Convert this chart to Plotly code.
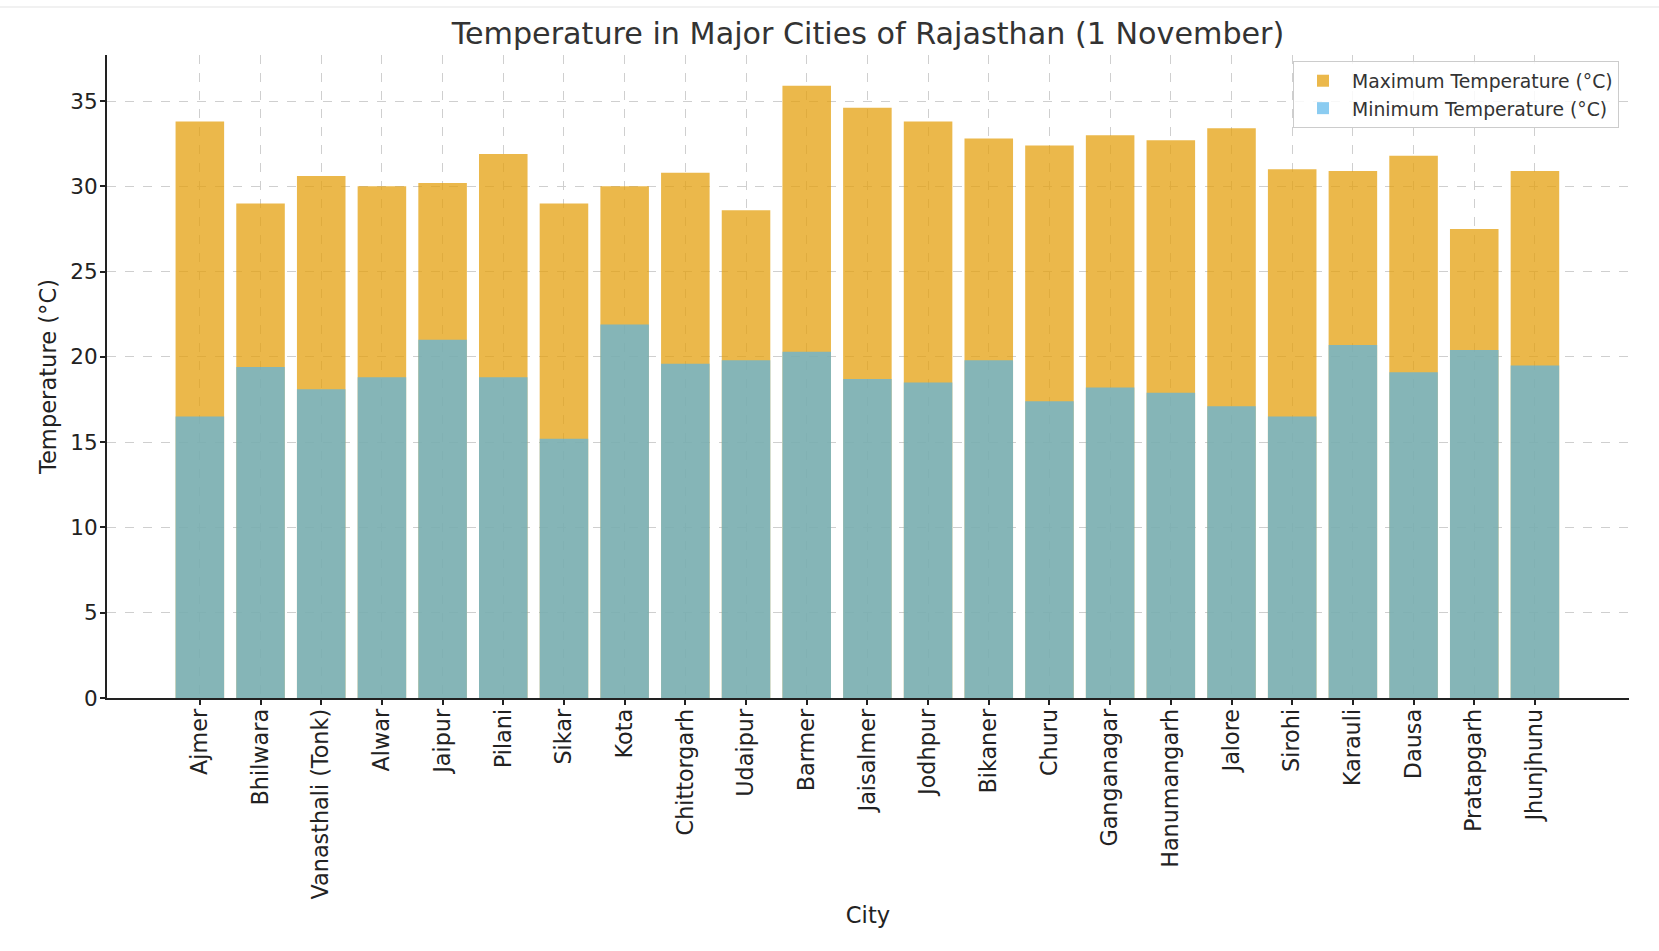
import plotly.graph_objects as go

cities = ["Ajmer", "Bhilwara", "Vanasthali (Tonk)", "Alwar", "Jaipur", "Pilani", "Sikar", "Kota",
          "Chittorgarh", "Udaipur", "Barmer", "Jaisalmer", "Jodhpur", "Bikaner", "Churu",
          "Ganganagar", "Hanumangarh", "Jalore", "Sirohi", "Karauli", "Dausa", "Pratapgarh", "Jhunjhunu"]
max_temp = [33.8, 29.0, 30.6, 30.0, 30.2, 31.9, 29.0, 30.0, 30.8, 28.6, 35.9, 34.6, 33.8,
            32.8, 32.4, 33.0, 32.7, 33.4, 31.0, 30.9, 31.8, 27.5, 30.9]
min_temp = [16.5, 19.4, 18.1, 18.8, 21.0, 18.8, 15.2, 21.9, 19.6, 19.8, 20.3, 18.7, 18.5,
            19.8, 17.4, 18.2, 17.9, 17.1, 16.5, 20.7, 19.1, 20.4, 19.5]
y_ticks = [0, 5, 10, 15, 20, 25, 30, 35]

FONT = "DejaVu Sans"
W, H = 1659, 951
L, R, T, B = 107, 30, 55, 253

fig = go.Figure()
fig.add_trace(go.Bar(
    x=cities, y=max_temp, name="Maximum Temperature (°C)", width=0.8,
    marker=dict(color="rgba(228,160,15,0.75)", line=dict(width=0)),
))
fig.add_trace(go.Bar(
    x=cities, y=min_temp, name="Minimum Temperature (°C)", width=0.8,
    marker=dict(color="rgba(84,180,235,0.68)", line=dict(width=0)),
))

pw = W - L - R
ph = H - T - B
fig.add_shape(type="line", xref="paper", yref="paper",
              x0=-L / pw, x1=(W - L) / pw, y0=1 + (T - 7) / ph, y1=1 + (T - 7) / ph,
              line=dict(color="#e3e3e3", width=1))

fig.update_layout(
    width=W, height=H,
    margin=dict(l=L, r=R, t=T, b=B, pad=0),
    barmode="overlay",
    bargap=0.2,
    paper_bgcolor="white", plot_bgcolor="white",
    font=dict(family=FONT, color="#222222"),
    title=dict(text="Temperature in Major Cities of Rajasthan (1 November)",
               x=(L + pw / 2) / W, xanchor="center", y=1 - 33 / H, yanchor="middle",
               font=dict(size=30.2, color="#333333", family=FONT)),
    legend=dict(x=(1619 - L) / pw, xanchor="right", y=1 - (61 - T) / ph, yanchor="top",
                bgcolor="rgba(255,255,255,0.85)", bordercolor="#cccccc", borderwidth=1,
                font=dict(size=18.8, color="#333333", family=FONT),
                traceorder="normal", itemwidth=48, tracegroupgap=0),
    xaxis=dict(
        type="category", range=[-1.53, 23.55],
        showline=True, linecolor="#222222", linewidth=2,
        ticks="outside", ticklen=5, tickwidth=1.5, tickcolor="#222222",
        ticklabelstandoff=-5,
        tickangle=-90, tickfont=dict(size=22.3, color="#222222", family=FONT),
        showgrid=True, gridcolor="#cfcfcf", gridwidth=1, griddash="dash",
        title=dict(text="City", font=dict(size=22.6, color="#222222", family=FONT), standoff=9),
        zeroline=False,
    ),
    yaxis=dict(
        range=[0, 37.7], tickvals=y_ticks,
        showline=True, linecolor="#222222", linewidth=2,
        ticks="outside", ticklen=5, tickwidth=1.5, tickcolor="#222222",
        ticklabelstandoff=-2,
        tickfont=dict(size=21.5, color="#222222", family=FONT),
        showgrid=True, gridcolor="#cfcfcf", gridwidth=1, griddash="dash",
        title=dict(text="Temperature (°C)", font=dict(size=22.6, color="#222222", family=FONT), standoff=7),
        zeroline=False,
    ),
)

fig.write_html("out.html")
